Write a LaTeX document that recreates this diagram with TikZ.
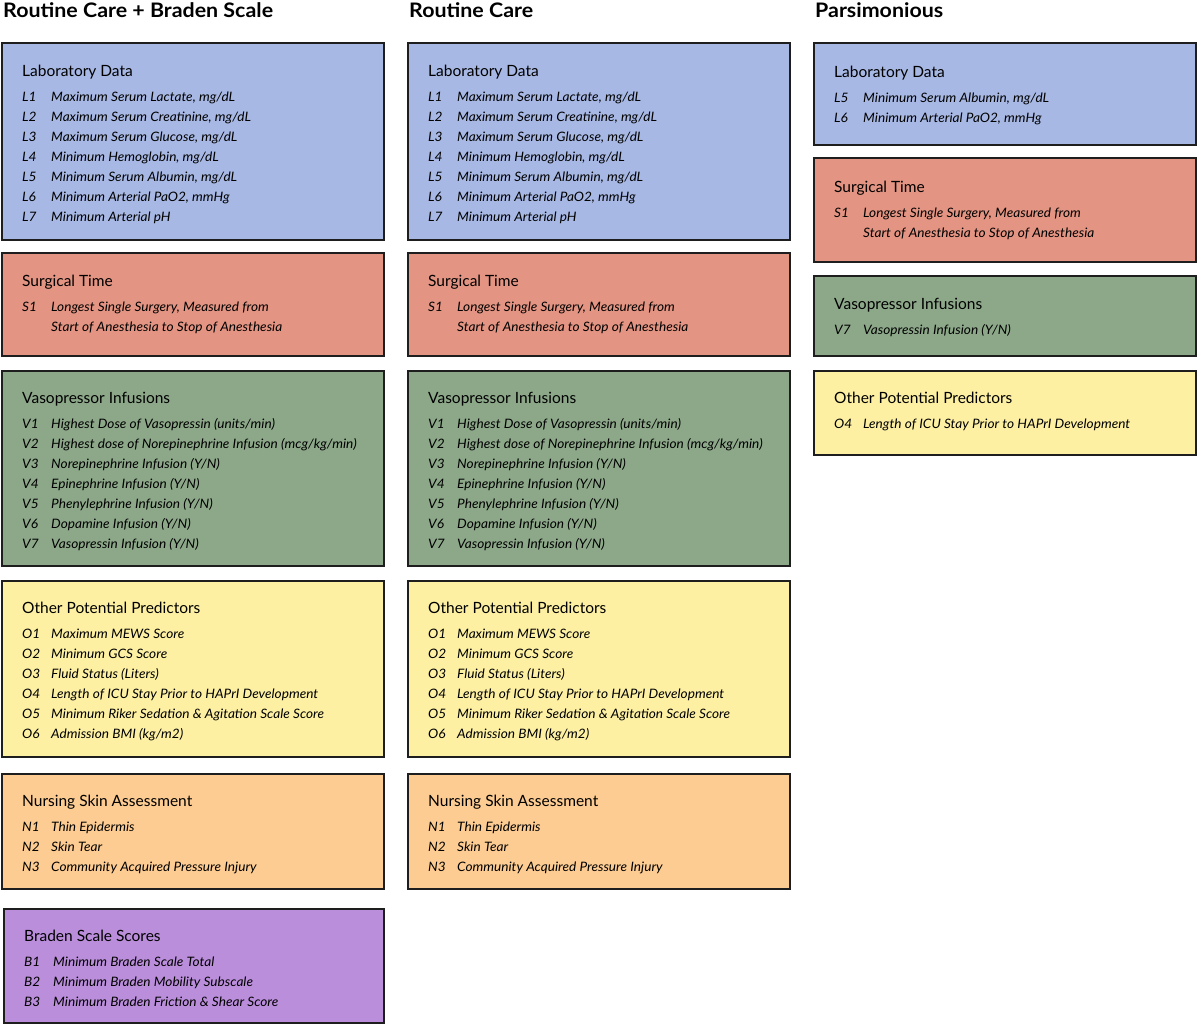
\documentclass[tikz,border=0pt]{standalone}
\usepackage{fontspec}
\setmainfont{Lato}
\newfontfamily\itemfont{Lato}[FakeStretch=1.05]
\newfontfamily\headfont{Lato}[FakeStretch=1.07]
\definecolor{boxline}{HTML}{1E1E1E}
\definecolor{cLab}{HTML}{A7B8E4}
\definecolor{cSurg}{HTML}{E39482}
\definecolor{cVaso}{HTML}{8CA889}
\definecolor{cOther}{HTML}{FDF0A3}
\definecolor{cNurse}{HTML}{FDCC92}
\definecolor{cBraden}{HTML}{BB8EDC}
\tikzset{
  box/.style={draw=boxline, line width=2.6pt},
  ttl/.style={anchor=base west, inner sep=0, yshift=-1pt, font=\fontsize{15.5}{18}\selectfont},
  lbl/.style={anchor=base west, inner sep=0, yshift=-1pt, font=\itemfont\fontsize{13}{15}\selectfont\itshape},
  hdr/.style={anchor=base west, inner sep=0, font=\headfont\fontsize{20}{22}\selectfont\bfseries},
}
% #1 name, #2 x, #3 y, #4 code, #5 text
\newcommand\itm[5]{\node[lbl] (#1l) at (#2,#3) {#4}; \node[lbl] (#1t) at (#2+29,#3) {#5};}
\newcommand\fullcol[2]{%
  \draw[box, fill=cLab] (#1+2,43) rectangle (#1+384,240);
  \node[ttl] (#2labT) at (#1+22,75) {Laboratory Data};
  \itm{#2L1}{#1+22}{100}{L1}{Maximum Serum Lactate, mg/dL}
  \itm{#2L2}{#1+22}{120}{L2}{Maximum Serum Creatinine, mg/dL}
  \itm{#2L3}{#1+22}{140}{L3}{Maximum Serum Glucose, mg/dL}
  \itm{#2L4}{#1+22}{160}{L4}{Minimum Hemoglobin, mg/dL}
  \itm{#2L5}{#1+22}{180}{L5}{Minimum Serum Albumin, mg/dL}
  \itm{#2L6}{#1+22}{200}{L6}{Minimum Arterial PaO2, mmHg}
  \itm{#2L7}{#1+22}{220}{L7}{Minimum Arterial pH}
  \draw[box, fill=cSurg] (#1+2,253) rectangle (#1+384,356);
  \node[ttl] (#2surT) at (#1+22,285) {Surgical Time};
  \itm{#2S1}{#1+22}{310}{S1}{Longest Single Surgery, Measured from}
  \node[lbl] (#2S1b) at (#1+51,330) {Start of Anesthesia to Stop of Anesthesia};
  \draw[box, fill=cVaso] (#1+2,371) rectangle (#1+384,566);
  \node[ttl] (#2vasT) at (#1+22,402) {Vasopressor Infusions};
  \itm{#2V1}{#1+22}{427}{V1}{Highest Dose of Vasopressin (units/min)}
  \itm{#2V2}{#1+22}{447}{V2}{Highest dose of Norepinephrine Infusion (mcg/kg/min)}
  \itm{#2V3}{#1+22}{467}{V3}{Norepinephrine Infusion (Y/N)}
  \itm{#2V4}{#1+22}{487}{V4}{Epinephrine Infusion (Y/N)}
  \itm{#2V5}{#1+22}{507}{V5}{Phenylephrine Infusion (Y/N)}
  \itm{#2V6}{#1+22}{527}{V6}{Dopamine Infusion (Y/N)}
  \itm{#2V7}{#1+22}{547}{V7}{Vasopressin Infusion (Y/N)}
  \draw[box, fill=cOther] (#1+2,581) rectangle (#1+384,757);
  \node[ttl] (#2othT) at (#1+22,612) {Other Potential Predictors};
  \itm{#2O1}{#1+22}{637}{O1}{Maximum MEWS Score}
  \itm{#2O2}{#1+22}{657}{O2}{Minimum GCS Score}
  \itm{#2O3}{#1+22}{677}{O3}{Fluid Status (Liters)}
  \itm{#2O4}{#1+22}{697}{O4}{Length of ICU Stay Prior to HAPrI Development}
  \itm{#2O5}{#1+22}{717}{O5}{Minimum Riker Sedation \& Agitation Scale Score}
  \itm{#2O6}{#1+22}{737}{O6}{Admission BMI (kg/m2)}
  \draw[box, fill=cNurse] (#1+2,774) rectangle (#1+384,889);
  \node[ttl] (#2nurT) at (#1+22,805) {Nursing Skin Assessment};
  \itm{#2N1}{#1+22}{830}{N1}{Thin Epidermis}
  \itm{#2N2}{#1+22}{850}{N2}{Skin Tear}
  \itm{#2N3}{#1+22}{870}{N3}{Community Acquired Pressure Injury}
}
\begin{document}
\begin{tikzpicture}[x=1pt,y=-1pt]
\useasboundingbox (0,0) rectangle (1200,1026);
\fill[white] (0,0) rectangle (1200,1026);
% headers
\node[hdr] (h1) at (3,17) {Routine Care + Braden Scale};
\node[hdr] (h2) at (409,17) {Routine Care};
\node[hdr] (h3) at (815,17) {Parsimonious};
% columns 1 and 2
\fullcol{0}{a}
\fullcol{406}{b}
% Braden box (column 1)
\draw[box, fill=cBraden] (4,909) rectangle (384,1023);
\node[ttl] (abraT) at (24,940) {Braden Scale Scores};
\itm{aB1}{24}{965}{B1}{Minimum Braden Scale Total}
\itm{aB2}{24}{985}{B2}{Minimum Braden Mobility Subscale}
\itm{aB3}{24}{1005}{B3}{Minimum Braden Friction \& Shear Score}
% column 3
\draw[box, fill=cLab] (814,43) rectangle (1196,145);
\node[ttl] (clabT) at (834,76) {Laboratory Data};
\itm{cL5}{834}{101}{L5}{Minimum Serum Albumin, mg/dL}
\itm{cL6}{834}{121}{L6}{Minimum Arterial PaO2, mmHg}
\draw[box, fill=cSurg] (814,158) rectangle (1196,262);
\node[ttl] (csurT) at (834,191) {Surgical Time};
\itm{cS1}{834}{216}{S1}{Longest Single Surgery, Measured from}
\node[lbl] (cS1b) at (863,236) {Start of Anesthesia to Stop of Anesthesia};
\draw[box, fill=cVaso] (814,276) rectangle (1196,356);
\node[ttl] (cvasT) at (834,308) {Vasopressor Infusions};
\itm{cV7}{834}{333}{V7}{Vasopressin Infusion (Y/N)}
\draw[box, fill=cOther] (814,371) rectangle (1196,455);
\node[ttl] (cothT) at (834,402) {Other Potential Predictors};
\itm{cO4}{834}{427}{O4}{Length of ICU Stay Prior to HAPrI Development}
\end{tikzpicture}
\end{document}
